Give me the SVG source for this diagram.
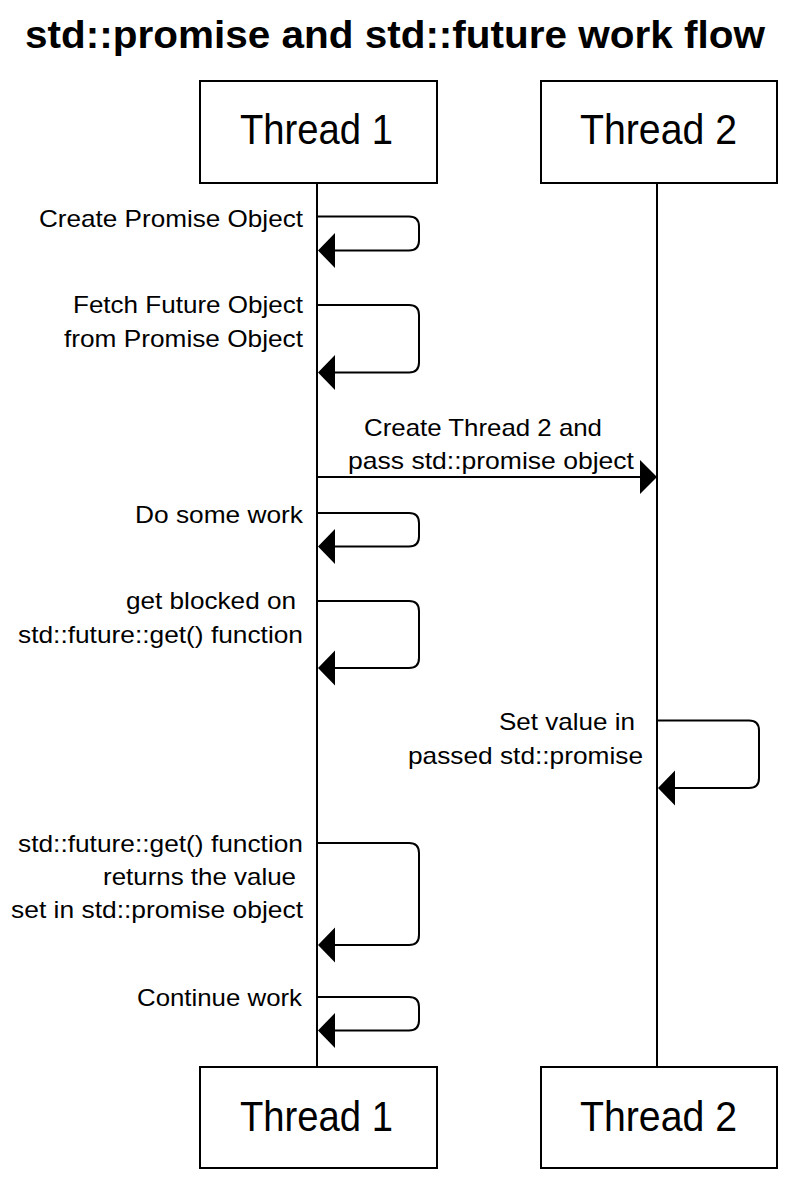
<svg xmlns="http://www.w3.org/2000/svg" width="794" height="1180" viewBox="0 0 794 1180">
<style>
.box{fill:#fff;stroke:#000;stroke-width:2}
.life{stroke:#000;stroke-width:2;fill:none}
.loop{stroke:#000;stroke-width:2;fill:none}
.head{fill:#000}
.title{font-family:"Liberation Sans",Arial,sans-serif;font-weight:bold;font-size:39px;fill:#000}
.th{font-family:"Liberation Sans",Arial,sans-serif;font-size:43px;fill:#000}
.lbl{font-family:"Liberation Sans",Arial,sans-serif;font-size:24px;fill:#000}
</style>
<rect width="794" height="1180" fill="#fff"/>
<text class="title" x="25" y="48" textLength="740" lengthAdjust="spacingAndGlyphs">std::promise and std::future work flow</text>
<g id="connectors">
<line class="life" x1="317" y1="183" x2="317" y2="1067"/>
<line class="life" x1="657" y1="183" x2="657" y2="1067"/>
<path class="loop" d="M317,216.5 H409 Q419,216.5 419,226.5 V240.5 Q419,250.5 409,250.5 H334"/>
<polygon class="head" points="318,250.5 335,233 335,268"/>
<path class="loop" d="M317,305 H409 Q419,305 419,315 V362.5 Q419,372.5 409,372.5 H334"/>
<polygon class="head" points="318,372.5 335,355 335,390"/>
<line class="loop" x1="317" y1="477" x2="641" y2="477"/>
<polygon class="head" points="657,477 640,460 640,494"/>
<path class="loop" d="M317,513 H409 Q419,513 419,523 V536.5 Q419,546.5 409,546.5 H334"/>
<polygon class="head" points="318,546.5 335,529 335,564"/>
<path class="loop" d="M317,601 H409 Q419,601 419,611 V658 Q419,668 409,668 H334"/>
<polygon class="head" points="318,668 335,650.5 335,685.5"/>
<path class="loop" d="M657,720.5 H749 Q759,720.5 759,730.5 V778 Q759,788 749,788 H674"/>
<polygon class="head" points="658,788 675,770.5 675,805.5"/>
<path class="loop" d="M317,843 H409 Q419,843 419,853 V935 Q419,945 409,945 H334"/>
<polygon class="head" points="318,945 335,927.5 335,962.5"/>
<path class="loop" d="M317,997 H409 Q419,997 419,1007 V1020.5 Q419,1030.5 409,1030.5 H334"/>
<polygon class="head" points="318,1030.5 335,1013 335,1048"/>
</g>
<g id="thread1-top"><rect class="box" x="200" y="81" width="237" height="102"/><text class="th" x="240" y="144" textLength="153" lengthAdjust="spacingAndGlyphs">Thread 1</text></g>
<g id="thread2-top"><rect class="box" x="541" y="81" width="236" height="102"/><text class="th" x="580" y="144" textLength="157" lengthAdjust="spacingAndGlyphs">Thread 2</text></g>
<g id="thread1-bottom"><rect class="box" x="200" y="1067" width="237" height="101"/><text class="th" x="240" y="1131" textLength="153" lengthAdjust="spacingAndGlyphs">Thread 1</text></g>
<g id="thread2-bottom"><rect class="box" x="541" y="1067" width="236" height="101"/><text class="th" x="580" y="1131" textLength="157" lengthAdjust="spacingAndGlyphs">Thread 2</text></g>
<g id="labels">
<text class="lbl" x="39" y="227" textLength="264" lengthAdjust="spacingAndGlyphs">Create Promise Object</text>
<text class="lbl" x="73" y="313" textLength="230" lengthAdjust="spacingAndGlyphs">Fetch Future Object</text>
<text class="lbl" x="64" y="347" textLength="239" lengthAdjust="spacingAndGlyphs">from Promise Object</text>
<text class="lbl" x="364" y="436" textLength="238" lengthAdjust="spacingAndGlyphs">Create Thread 2 and</text>
<text class="lbl" x="348" y="469" textLength="286" lengthAdjust="spacingAndGlyphs">pass std::promise object</text>
<text class="lbl" x="135" y="523" textLength="168" lengthAdjust="spacingAndGlyphs">Do some work</text>
<text class="lbl" x="126" y="609" textLength="170" lengthAdjust="spacingAndGlyphs">get blocked on</text>
<text class="lbl" x="18" y="643" textLength="285" lengthAdjust="spacingAndGlyphs">std::future::get() function</text>
<text class="lbl" x="499" y="730" textLength="136" lengthAdjust="spacingAndGlyphs">Set value in</text>
<text class="lbl" x="408" y="764" textLength="235" lengthAdjust="spacingAndGlyphs">passed std::promise</text>
<text class="lbl" x="18" y="852" textLength="285" lengthAdjust="spacingAndGlyphs">std::future::get() function</text>
<text class="lbl" x="103" y="885" textLength="193" lengthAdjust="spacingAndGlyphs">returns the value</text>
<text class="lbl" x="11" y="918" textLength="292" lengthAdjust="spacingAndGlyphs">set in std::promise object</text>
<text class="lbl" x="137" y="1006" textLength="165" lengthAdjust="spacingAndGlyphs">Continue work</text>
</g>
</svg>
